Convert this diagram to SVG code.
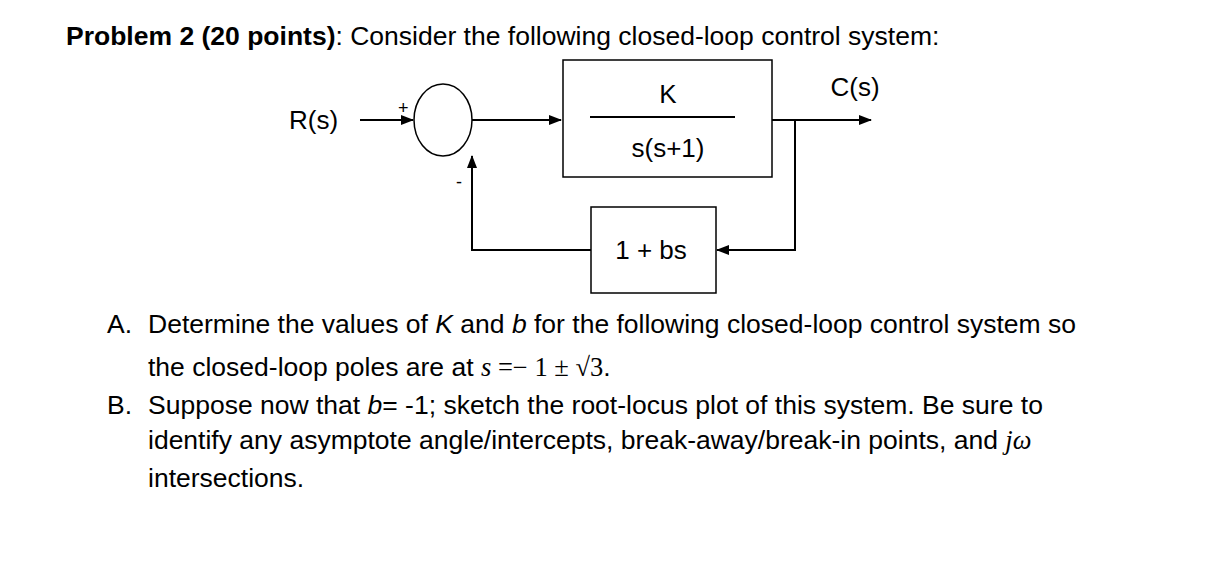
<svg xmlns="http://www.w3.org/2000/svg" width="1211" height="584" viewBox="0 0 1211 584">
<style>
text{font-family:"Liberation Sans",Arial,sans-serif;fill:#000}
.t{font-size:26.5px}
.d{font-size:26px}
.m{font-family:"Liberation Serif","DejaVu Serif",serif;font-style:italic}
.ln{stroke:#000;stroke-width:2;fill:none}
.bx{stroke:#000;stroke-width:1.5;fill:#fff}
</style>
<defs><marker id="a" markerWidth="13" markerHeight="10" refX="12" refY="5" orient="auto" markerUnits="userSpaceOnUse"><path d="M0,0L13,5L0,10z" fill="#000"/></marker></defs>
<rect width="1211" height="584" fill="#fff"/>
<text class="t" x="66" y="45"><tspan font-weight="bold">Problem 2 (20 points)</tspan>: Consider the following closed-loop control system:</text>
<g id="connectors">
<path class="ln" d="M360,120H413" marker-end="url(#a)"/>
<path class="ln" d="M471,120H561" marker-end="url(#a)"/>
<path class="ln" d="M772,120H871" marker-end="url(#a)"/>
<path class="ln" d="M795,120V250H717" marker-end="url(#a)"/>
<path class="ln" d="M591,250H472V156" marker-end="url(#a)"/>
</g>
<g id="R"><text class="d" x="289" y="129">R(s)</text></g>
<g id="sum"><ellipse class="bx" cx="443" cy="120" rx="29" ry="36"/><text x="398" y="114" font-size="18">+</text><text x="456" y="188" font-size="18">-</text></g>
<g id="G"><rect class="bx" x="563" y="60" width="209" height="117"/><text class="d" x="668" y="103" text-anchor="middle">K</text><path class="ln" d="M590,117H735"/><text class="d" x="668" y="157" text-anchor="middle">s(s+1)</text></g>
<g id="C"><text class="d" x="855" y="96" text-anchor="middle">C(s)</text></g>
<g id="H"><rect class="bx" x="591" y="207" width="125" height="86"/><text class="d" x="651" y="259" text-anchor="middle">1 + bs</text></g>
<text class="t" x="107" y="333">A.</text>
<text class="t" x="148" y="333">Determine the values of <tspan font-style="italic">K</tspan> and <tspan font-style="italic">b</tspan> for the following closed-loop control system so</text>
<text class="t" x="148" y="376">the closed-loop poles are at <tspan class="m">s</tspan><tspan font-family="Liberation Serif,serif"> =− 1 ± √3</tspan>.</text>
<text class="t" x="107" y="414">B.</text>
<text class="t" x="148" y="414">Suppose now that <tspan font-style="italic">b</tspan>= -1; sketch the root-locus plot of this system. Be sure to</text>
<text class="t" x="148" y="449">identify any asymptote angle/intercepts, break-away/break-in points, and <tspan class="m">jω</tspan></text>
<text class="t" x="148" y="487">intersections.</text>
</svg>
